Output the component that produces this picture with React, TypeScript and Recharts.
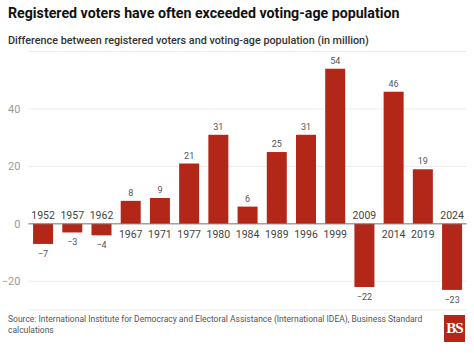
import { Bar, BarChart, CartesianGrid, ReferenceLine, XAxis, YAxis } from "recharts"

const years = ["1952", "1957", "1962", "1967", "1971", "1977", "1980", "1984", "1989", "1996", "1999", "2009", "2014", "2019", "2024"]
const gaps = [-7, -3, -4, 8, 9, 21, 31, 6, 25, 31, 54, -22, 46, 19, -23]
const yTicks = [-20, 0, 20, 40]

const data = years.map((year, i) => ({ year, gap: gaps[i] }))

const RED = "#b32718"
const FONT = "Roboto, 'Noto Sans', sans-serif"

const fmt = (v: number) => (v < 0 ? `\u2212${-v}` : `${v}`)

// bar plus its value label and year label (year sits on the other side of the zero line)
const BarWithLabels = (props: any) => {
  const { x, y, width, height, payload } = props
  const top = Math.min(y, y + height)
  const bottom = Math.max(y, y + height)
  const cx = x + width / 2
  const pos = payload.gap >= 0
  const zero = pos ? bottom : top
  return (
    <g>
      <rect x={x} y={top} width={width} height={bottom - top} fill={RED} />
      <text x={cx} y={pos ? top - 5 : bottom + 13} textAnchor="middle" fontSize={9} fill="#555" fontFamily={FONT}>
        {fmt(payload.gap)}
      </text>
      <text x={cx} y={pos ? zero + 14 : zero - 5} textAnchor="middle" fontSize={10.5} fill="#444" fontFamily={FONT}>
        {payload.year}
      </text>
    </g>
  )
}

export default function App() {
  return (
    <div style={{ position: "fixed", left: 0, top: 0, width: 474, height: 353, background: "#fff", fontFamily: FONT }}>
      <div style={{ position: "absolute", left: 8, top: 5, fontSize: 14.2, fontWeight: 700, color: "#111", whiteSpace: "nowrap" }}>
        Registered voters have often exceeded voting-age population
      </div>
      <div style={{ position: "absolute", left: 8, top: 34, fontSize: 10.8, fontWeight: 500, color: "#333", whiteSpace: "nowrap" }}>
        Difference between registered voters and voting-age population (in million)
      </div>
      <div style={{ position: "absolute", left: 0, top: 0 }}>
        <BarChart width={474} height={353} data={data} margin={{ top: 51.5, right: 7.4, bottom: 43, left: 8.4 }} barCategoryGap="16%">
          <CartesianGrid vertical={false} stroke="#ececec" />
          <XAxis dataKey="year" hide padding={{ left: 0, right: 0 }} />
          <YAxis
            width={20}
            domain={[-30, 60]}
            ticks={yTicks}
            axisLine={false}
            tickLine={false}
            tickMargin={2}
            tick={{ fill: "#9a9a9a", fontSize: 11, fontFamily: FONT }}
            tickFormatter={fmt}
          />
          <Bar dataKey="gap" isAnimationActive={false} shape={<BarWithLabels />} />
          <ReferenceLine y={0} stroke="#7a7a7a" strokeWidth={1} />
        </BarChart>
      </div>
      <div style={{ position: "absolute", left: 8, top: 314, fontSize: 8.5, color: "#555", lineHeight: "11px", width: 420 }}>
        Source: International Institute for Democracy and Electoral Assistance (International IDEA), Business Standard calculations
      </div>
      <div
        style={{
          position: "absolute",
          left: 444,
          top: 315,
          width: 21,
          height: 27,
          background: RED,
          color: "#fff",
          fontFamily: "'Liberation Serif', 'DejaVu Serif', serif",
          fontWeight: 700,
          fontSize: 15,
          lineHeight: "27px",
          textAlign: "center",
          letterSpacing: -1,
        }}
      >
        BS
      </div>
    </div>
  )
}
